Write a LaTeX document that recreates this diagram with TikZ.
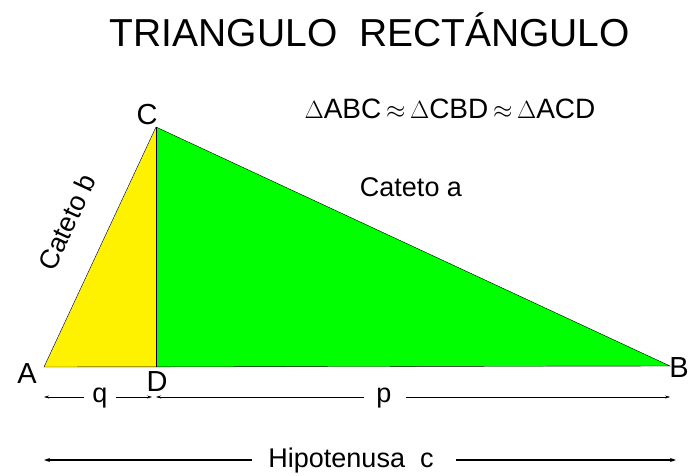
\documentclass[tikz,border=0pt]{standalone}
\usepackage{fontspec}
\setmainfont{Liberation Sans}
\usetikzlibrary{arrows.meta}
\tikzset{vertex/.style={inner sep=0pt, font=\fontsize{29}{29}\selectfont},
side/.style={inner sep=0pt, font=\fontsize{27}{27}\selectfont},
dim/.style={thin, -{Stealth[length=5pt,width=3pt]}},
bigdim/.style={line width=1.3pt, -{Stealth[length=6pt,width=4pt]}}}
\begin{document}
\begin{tikzpicture}[x=1pt,y=-1pt]
  \useasboundingbox (0,0) rectangle (693,476);
  \coordinate (A) at (44,367);
  \coordinate (D) at (156,367);
  \coordinate (C) at (156,127);
  \coordinate (B) at (670,366);
  % the two parts
  \fill [yellow] (A) -- (D) -- (C) -- cycle;
  \fill [green] (D) -- (B) -- (C) -- cycle;
  \draw [thin] (A) -- (B) -- (C) -- cycle;
  \draw [thin] (C) -- (D);
  % names
  \node (title) [inner sep=0pt, font=\fontsize{39}{39}\selectfont] at (370,30) {TRIANGULO\ \ RECTÁNGULO};
  \node (sim) [inner sep=0pt, font=\fontsize{28}{28}\selectfont] at (450,109) {$\Delta$ABC\,${\approx}$\,$\Delta$CBD\,${\approx}$\,$\Delta$ACD};
  \node (lC) [vertex] at (147,115) {C};
  \node (lA) [vertex] at (27,374) {A};
  \node (lB) [vertex] at (679,368) {B};
  \node (lD) [vertex] at (157,382) {D};
  \node (ca) [side] at (411,187) {Cateto a};
  \node (cb) [side, rotate=65] at (67,222) {Cateto b};
  % lengths
  \node (q) [side] at (100,398) {q};
  \node (p) [side] at (384,398) {p};
  \node (c) [side] at (351,461) {Hipotenusa\ \ c};
  \coordinate (q1) at (44,397);
  \coordinate (q2) at (152,397);
  \coordinate (p1) at (156,397);
  \coordinate (p2) at (670,397);
  \coordinate (c1) at (44,460);
  \coordinate (c2) at (676,460);
  \draw [dim] (q.west) ++(-8,-1) -- (q1);
  \draw [dim] (q.east) ++(8,-1) -- (q2);
  \draw [dim] (p.west) ++(-12,-1) -- (p1);
  \draw [dim] (p.east) ++(14,-1) -- (p2);
  \draw [bigdim] (c.west) ++(-16,-1) -- (c1);
  \draw [bigdim] (c.east) ++(22,-1) -- (c2);
\end{tikzpicture}
\end{document}
